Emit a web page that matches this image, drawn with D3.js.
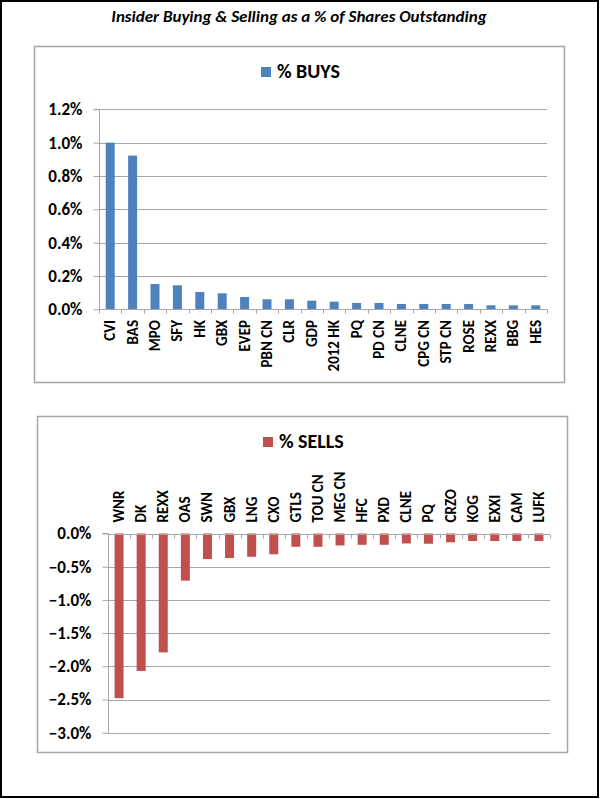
<!DOCTYPE html>
<html>
<head>
<meta charset="utf-8">
<script src="https://cdn.jsdelivr.net/npm/d3@7"></script>
<style>
  body { margin: 0; background: #fff; }
  svg { display: block; }
  text { font-family: Calibri, Carlito, Lato, "Open Sans", sans-serif; font-weight: bold; fill: #000; }
</style>
</head>
<body>
<svg id="chart" width="600" height="799"></svg>
<script>
// ---- Data ----
const buyCategories = ["CVI","BAS","MPO","SFY","HK","GBX","EVEP","PBN CN","CLR","GDP","2012 HK","PQ","PD CN","CLNE","CPG CN","STP CN","ROSE","REXX","BBG","HES"];
const buyValues = [1.00,0.922,0.152,0.144,0.104,0.096,0.074,0.060,0.060,0.052,0.046,0.038,0.038,0.032,0.032,0.032,0.032,0.024,0.024,0.024];
const buyTicks = [0.0,0.2,0.4,0.6,0.8,1.0,1.2];

const sellCategories = ["WNR","DK","REXX","OAS","SWN","GBX","LNG","CXO","GTLS","TOU CN","MEG CN","HFC","PXD","CLNE","PQ","CRZO","KOG","EXXI","CAM","LUFK"];
const sellValues = [-2.48,-2.07,-1.79,-0.71,-0.385,-0.37,-0.35,-0.313,-0.20,-0.20,-0.18,-0.17,-0.17,-0.15,-0.154,-0.133,-0.113,-0.113,-0.113,-0.113];
const sellTicks = [0.0,-0.5,-1.0,-1.5,-2.0,-2.5,-3.0];

const titleText = "Insider Buying & Selling as a % of Shares Outstanding";
const buyLegend = "% BUYS";
const sellLegend = "% SELLS";

// ---- Drawing ----
const svg = d3.select("#chart");
const gridColor = "#a6a6a6";
const boxColor = "#a6a6a6";

svg.append("rect").attr("x",1).attr("y",1).attr("width",597).attr("height",796)
  .attr("fill","none").attr("stroke","#000").attr("stroke-width",2);

svg.append("text").attr("x",299).attr("y",22).attr("text-anchor","middle")
  .style("font-style","italic").style("font-size","17px").text(titleText);

function drawChart(opts) {
  const g = svg.append("g");
  g.append("rect").attr("x",opts.box[0]+0.5).attr("y",opts.box[1]+0.5)
    .attr("width",opts.box[2]-opts.box[0]).attr("height",opts.box[3]-opts.box[1])
    .attr("fill","#fff").attr("stroke",boxColor).attr("stroke-width",1.5);

  const x = d3.scaleBand().domain(opts.cats).range([opts.x0, opts.x1]).paddingInner(0).paddingOuter(0);
  const y = d3.scaleLinear().domain(opts.domain).range([opts.yBottom, opts.yTop]);

  g.append("g").selectAll("line").data(opts.ticks).join("line")
    .attr("x1",opts.x0).attr("x2",opts.x1)
    .attr("y1",d=>Math.round(y(d))+0.5).attr("y2",d=>Math.round(y(d))+0.5)
    .attr("stroke",gridColor).attr("stroke-width",1);

  const yAxis = d3.axisLeft(y).tickValues(opts.ticks).tickFormat(d=>d3.format(".1f")(d)+"%").tickSize(6).tickPadding(opts.yPad);
  const ya = g.append("g").attr("transform",`translate(${Math.round(opts.x0)+0.5},0)`).call(yAxis);
  ya.attr("font-size",null).attr("font-family",null);
  ya.select(".domain").attr("stroke",gridColor).attr("d",`M-6,${y(opts.domain[1])}H0V${y(opts.domain[0])}`);
  ya.selectAll(".tick line").attr("stroke",gridColor);
  ya.selectAll(".tick text").style("font-size","17px").style("font-weight","bold").attr("fill","#000");

  const bw = 9;
  g.append("g").selectAll("rect").data(opts.vals).join("rect")
    .attr("x",(d,i)=>x(opts.cats[i]) + x.bandwidth()/2 - bw/2)
    .attr("width",bw)
    .attr("y",d=>Math.min(y(0),y(d)))
    .attr("height",d=>Math.abs(y(d)-y(0)))
    .attr("fill",opts.color);

  const y0 = Math.round(y(0))+0.5;
  g.append("line").attr("x1",opts.x0).attr("x2",opts.x1).attr("y1",y0).attr("y2",y0).attr("stroke",gridColor);
  const bounds = opts.cats.map(c=>x(c)).concat([opts.x1]);
  g.append("g").selectAll("line").data(bounds).join("line")
    .attr("x1",d=>Math.round(d)+0.5).attr("x2",d=>Math.round(d)+0.5)
    .attr("y1",y0).attr("y2",y0+4).attr("stroke",gridColor);

  g.append("g").selectAll("text").data(opts.cats).join("text")
    .attr("transform",c=>`translate(${x(c)+x.bandwidth()/2+5},${opts.labelY}) rotate(-90)`)
    .attr("text-anchor",opts.labelAnchor)
    .style("font-size","15px")
    .text(c=>c);

  g.append("rect").attr("x",opts.legend[0]).attr("y",opts.legend[1]).attr("width",10).attr("height",10).attr("fill",opts.color);
  g.append("text").attr("x",opts.legend[0]+16).attr("y",opts.legend[1]+11).style("font-size","20px").text(opts.legendText);
}

drawChart({
  box:[34,46,564,382],
  cats:buyCategories, vals:buyValues, ticks:buyTicks,
  domain:[0,1.2], x0:99, x1:547, yBottom:309.3, yTop:109.3,
  color:"#4f81bd", yPad:11,
  labelY:320, labelAnchor:"end",
  legend:[261,67], legendText:buyLegend
});

drawChart({
  box:[37,416,567,752],
  cats:sellCategories, vals:sellValues, ticks:sellTicks,
  domain:[-3.0,0], x0:108, x1:550, yBottom:732.7, yTop:533.5,
  color:"#c0504d", yPad:11,
  labelY:522.5, labelAnchor:"start",
  legend:[263,437], legendText:sellLegend
});
</script>
</body>
</html>
